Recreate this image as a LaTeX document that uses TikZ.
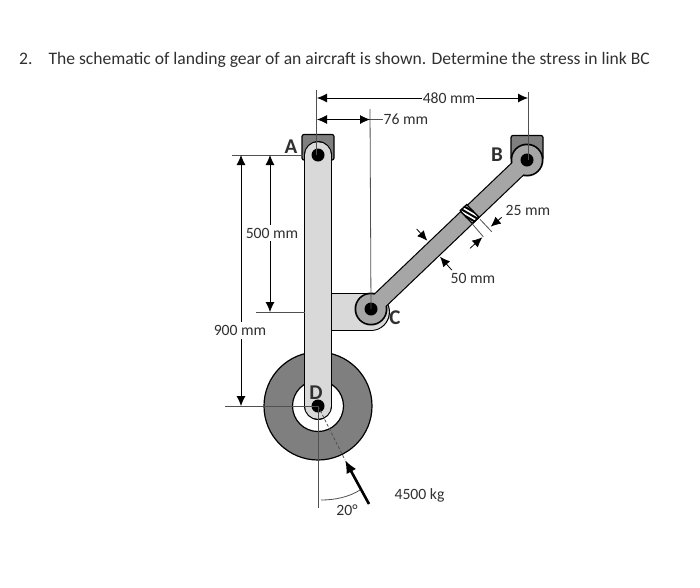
\documentclass[tikz,border=0pt]{standalone}
\usepackage{fontspec}
\setmainfont{Carlito}
\usetikzlibrary{arrows.meta}
\definecolor{txtgray}{HTML}{303030}
\definecolor{dimgray}{HTML}{505050}
\definecolor{darkfill}{HTML}{7F7F7F}
\definecolor{linkfill}{HTML}{D9D9D9}
\definecolor{rodfill}{HTML}{A6A6A6}

\begin{document}
\begin{tikzpicture}[x=1pt,y=-1pt]
\tikzstyle{label}=[inner xsep=1pt, inner ysep=3pt, text=txtgray, font=\fontsize{15.7}{18}\selectfont]
\tikzstyle{letter}=[inner sep=0pt, text=txtgray, font=\fontsize{21}{24}\selectfont\bfseries]
\tikzstyle{pin}=[circle, fill=black, inner sep=0pt, minimum size=13pt]
\tikzstyle{eye}=[circle, fill=black, inner sep=0pt, minimum size=33pt]
\tikzstyle{eyein}=[circle, fill=rodfill, inner sep=0pt, minimum size=29.5pt]
\tikzstyle{ext}=[dimgray, line width=0.8pt]
\tikzstyle{connect}=[-{Latex[length=10pt,width=9pt]}, black, line width=0.8pt]
\tikzstyle{support}=[draw=black, line width=1.2pt, fill=darkfill, rounded corners=2pt]
\useasboundingbox (0,0) rectangle (700,587);
  \coordinate (A) at (318,155);
  \coordinate (B) at (527,160);
  \coordinate (C) at (371,309);
  \coordinate (D) at (318,406);
  \node[inner sep=0pt, anchor=west, text=txtgray, font=\fontsize{17.57}{20}\selectfont] (title) at (19,59.5) {2.\hspace{16pt}The schematic of landing gear of an aircraft is shown. Determine the stress in link BC};
  % wheel
  \node[circle, draw=black, line width=1.2pt, fill=darkfill, inner sep=0pt, minimum size=108pt] (wheel) at (D) {};
  \node[circle, draw=black, line width=1.2pt, fill=white, inner sep=0pt, minimum size=51pt] (hub) at (D) {};
  % supports
  \draw[support] (302,160) -- (302,134.5) -- (334,134.5) -- (334,160) -- cycle;
  \draw[support] (511,160) -- (511,135.5) -- (543,135.5) -- (543,160) -- cycle;
  % bracket at C
  \coordinate (bracket) at (331,312);
  \coordinate (bracketend) at (371,312);
  \draw[line width=38pt, black, line cap=round] (bracket) -- (bracketend);
  \draw[line width=35.6pt, linkfill, line cap=round] (bracket) -- (bracketend);
  % main link
  \draw[line width=28pt, black, line cap=round] (A) -- (D);
  \draw[line width=25.6pt, linkfill, line cap=round] (A) -- (D);
  \node[letter] (labelD) at (316,393) {D};
  % rod BC
  \node[eye] (eyeC) at (C) {};
  \node[eye] (eyeB) at (B) {};
  \draw[line width=18pt, black] (C) -- (B);
  \draw[line width=15.6pt, rodfill] (C) -- (B);
  \node[eyein] (eyeCin) at (C) {};
  \node[eyein] (eyeBin) at (B) {};
  \node[rectangle, draw=black, fill=white, line width=1.3pt, rotate=43.7, minimum width=9pt, minimum height=17.5pt, inner sep=0pt] (section) at (469.5,214) {};
  \begin{scope}
    \clip (section.north west) -- (section.north east) -- (section.south east) -- (section.south west) -- cycle;
    \draw[line width=2pt] (456.6,211) -- (476.6,222.6);
    \draw[line width=2pt] (459.5,208.2) -- (479.5,219.8);
    \draw[line width=2pt] (462.4,205.4) -- (482.4,217);
  \end{scope}
  % pins
  \node[pin] (pinA) at (A) {};
  \node[pin] (pinB) at (B) {};
  \node[pin] (pinC) at (C) {};
  \node[pin] (pinD) at (D) {};
  \node[letter] (labelA) at (291,147) {A};
  \node[letter] (labelB) at (497,155) {B};
  \node[letter] (labelC) at (395,318) {C};
  % top dimensions
  \coordinate (extAtop) at (316,90);
  \coordinate (extBtop) at (528.5,92);
  \coordinate (extCtop) at (370,109);
  \draw[ext] (extAtop) -- (316,155);
  \draw[ext] (extBtop) -- (528.5,160);
  \draw[ext] (extCtop) -- (C);
  \node[label] (t480) at (449,98) {480 mm};
  \node[label] (t76) at (406,119.5) {76 mm};
  \draw[connect] (t480) -- (317,98);
  \draw[connect] (t480) -- (528,98);
  \coordinate (mid76) at (349,119.5);
  \draw[ext] (t76) -- (mid76);
  \draw[connect] (mid76) -- (317,119.5);
  \draw[connect] (mid76) -- (370,119.5);
  % left dimensions
  \coordinate (top500) at (270,155);
  \coordinate (bot500) at (270,312);
  \coordinate (top900) at (241,155);
  \coordinate (bot900) at (241,406);
  \draw[ext] (232,155) -- (303,155);
  \draw[ext] (256,312) -- (305,312);
  \draw[ext] (225,406) -- (D);
  \node[label] (t500) at (272,233) {500 mm};
  \node[label] (t900) at (240,330.5) {900 mm};
  \draw[connect] (top500 |- t500.north) -- (top500);
  \draw[connect] (bot500 |- t500.south) -- (bot500);
  \draw[connect] (top900 |- t900.north) -- (top900);
  \draw[connect] (bot900 |- t900.south) -- (bot900);
  % rod dimensions
  \draw[ext] (471.7,223.3) -- (483.3,236.7);
  \draw[ext] (480,219.3) -- (491.7,231.7);
  \draw[connect] (501.7,217.3) -- (490.7,226.7);
  \draw[connect] (470,248.3) -- (482.3,237.3);
  \draw[connect] (416.7,229) -- (427.3,240.7);
  \draw[connect] (451.7,270) -- (440,256.7);
  \node[label] (t25) at (528,210) {25 mm};
  \node[label] (t50) at (473,278.5) {50 mm};
  % load
  \coordinate (axisend) at (318,508);
  \coordinate (loadtip) at (345,460);
  \coordinate (loadtail) at (369,504);
  \draw[ext, line width=0.7pt] (D) -- (axisend);
  \draw[ext, line width=0.7pt, dashed, dash pattern=on 3pt off 2pt] (D) -- (loadtip);
  \draw[-{Latex[length=13pt,width=11pt]}, line width=2.6pt, black] (loadtail) -- (loadtip);
  \draw[ext] (321,500) .. controls (335,500) and (349,497) .. (360,490);
  \node[label] (t20) at (347,510) {20°};
  \node[label] (t4500) at (419.5,495.5) {4500 kg};
\end{tikzpicture}
\end{document}
